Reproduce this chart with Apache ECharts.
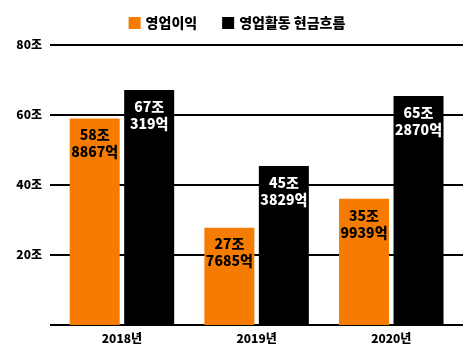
<!DOCTYPE html>
<html><head><meta charset="utf-8">
<script src="https://cdn.jsdelivr.net/npm/echarts@6/dist/echarts.min.js"></script>
<style>html,body{margin:0;padding:0;background:#fff}#c{width:474px;height:357px}</style>
</head><body><div id="c"></div>
<script>
const categories = ['2018년', '2019년', '2020년'];
const seriesNames = ['영업이익', '영업활동 현금흐름'];
const operatingProfit = [58.8867, 27.7685, 35.9939];
const operatingCashFlow = [67.0319, 45.3829, 65.2870];
const profitLabels = ['58조\n8867억', '27조\n7685억', '35조\n9939억'];
const cashLabels = ['67조\n319억', '45조\n3829억', '65조\n2870억'];
const yTicks = [20, 40, 60, 80];

const FONT = '"Noto Sans CJK KR", "Noto Sans", sans-serif';
const chart = echarts.init(document.getElementById('c'));
chart.setOption({
  animation: false,
  textStyle: { fontFamily: FONT },
  legend: {
    top: 11, left: 'center', itemGap: 25, itemWidth: 12, itemHeight: 12,
    icon: 'rect',
    textStyle: { fontFamily: FONT, fontWeight: 900, fontSize: 14, color: '#000' },
    data: seriesNames
  },
  grid: [
    { left: 50, right: 11, top: 44.5, bottom: 32 },
    { left: 54.6, right: 15.4, top: 44.5, bottom: 32 }
  ],
  xAxis: [
    { gridIndex: 0, type: 'category', data: categories, show: false },
    {
      gridIndex: 1, type: 'category', data: categories,
      axisLine: { show: false },
      axisTick: { show: false },
      axisLabel: { color: '#000', fontWeight: 900, fontSize: 12, fontFamily: FONT, margin: 7 }
    }
  ],
  yAxis: [
    {
      gridIndex: 0, type: 'value', min: 0, max: 80, interval: 20,
      axisLine: { show: false }, axisTick: { show: false },
      axisLabel: {
        color: '#000', fontWeight: 900, fontSize: 12, fontFamily: FONT, margin: 8,
        formatter: v => (yTicks.includes(v) ? v + '조' : '')
      },
      splitLine: { lineStyle: { color: '#000', width: 2 } }
    },
    { gridIndex: 1, type: 'value', min: 0, max: 80, interval: 20, show: false, splitLine: { show: false } }
  ],
  series: [
    {
      name: seriesNames[0], type: 'bar', data: operatingProfit,
      xAxisIndex: 1, yAxisIndex: 1,
      barWidth: 50, barGap: '9%',
      itemStyle: { color: '#f57c00' },
      label: {
        show: true, position: 'insideTop', distance: 8,
        color: '#000', fontWeight: 900, fontSize: 14, lineHeight: 17, fontFamily: FONT,
        formatter: p => profitLabels[p.dataIndex]
      }
    },
    {
      name: seriesNames[1], type: 'bar', data: operatingCashFlow,
      xAxisIndex: 1, yAxisIndex: 1,
      barWidth: 50,
      itemStyle: { color: '#000' },
      label: {
        show: true, position: 'insideTop', distance: 8,
        color: '#fff', fontWeight: 900, fontSize: 14, lineHeight: 17, fontFamily: FONT,
        formatter: p => cashLabels[p.dataIndex]
      }
    }
  ]
});
</script></body></html>
